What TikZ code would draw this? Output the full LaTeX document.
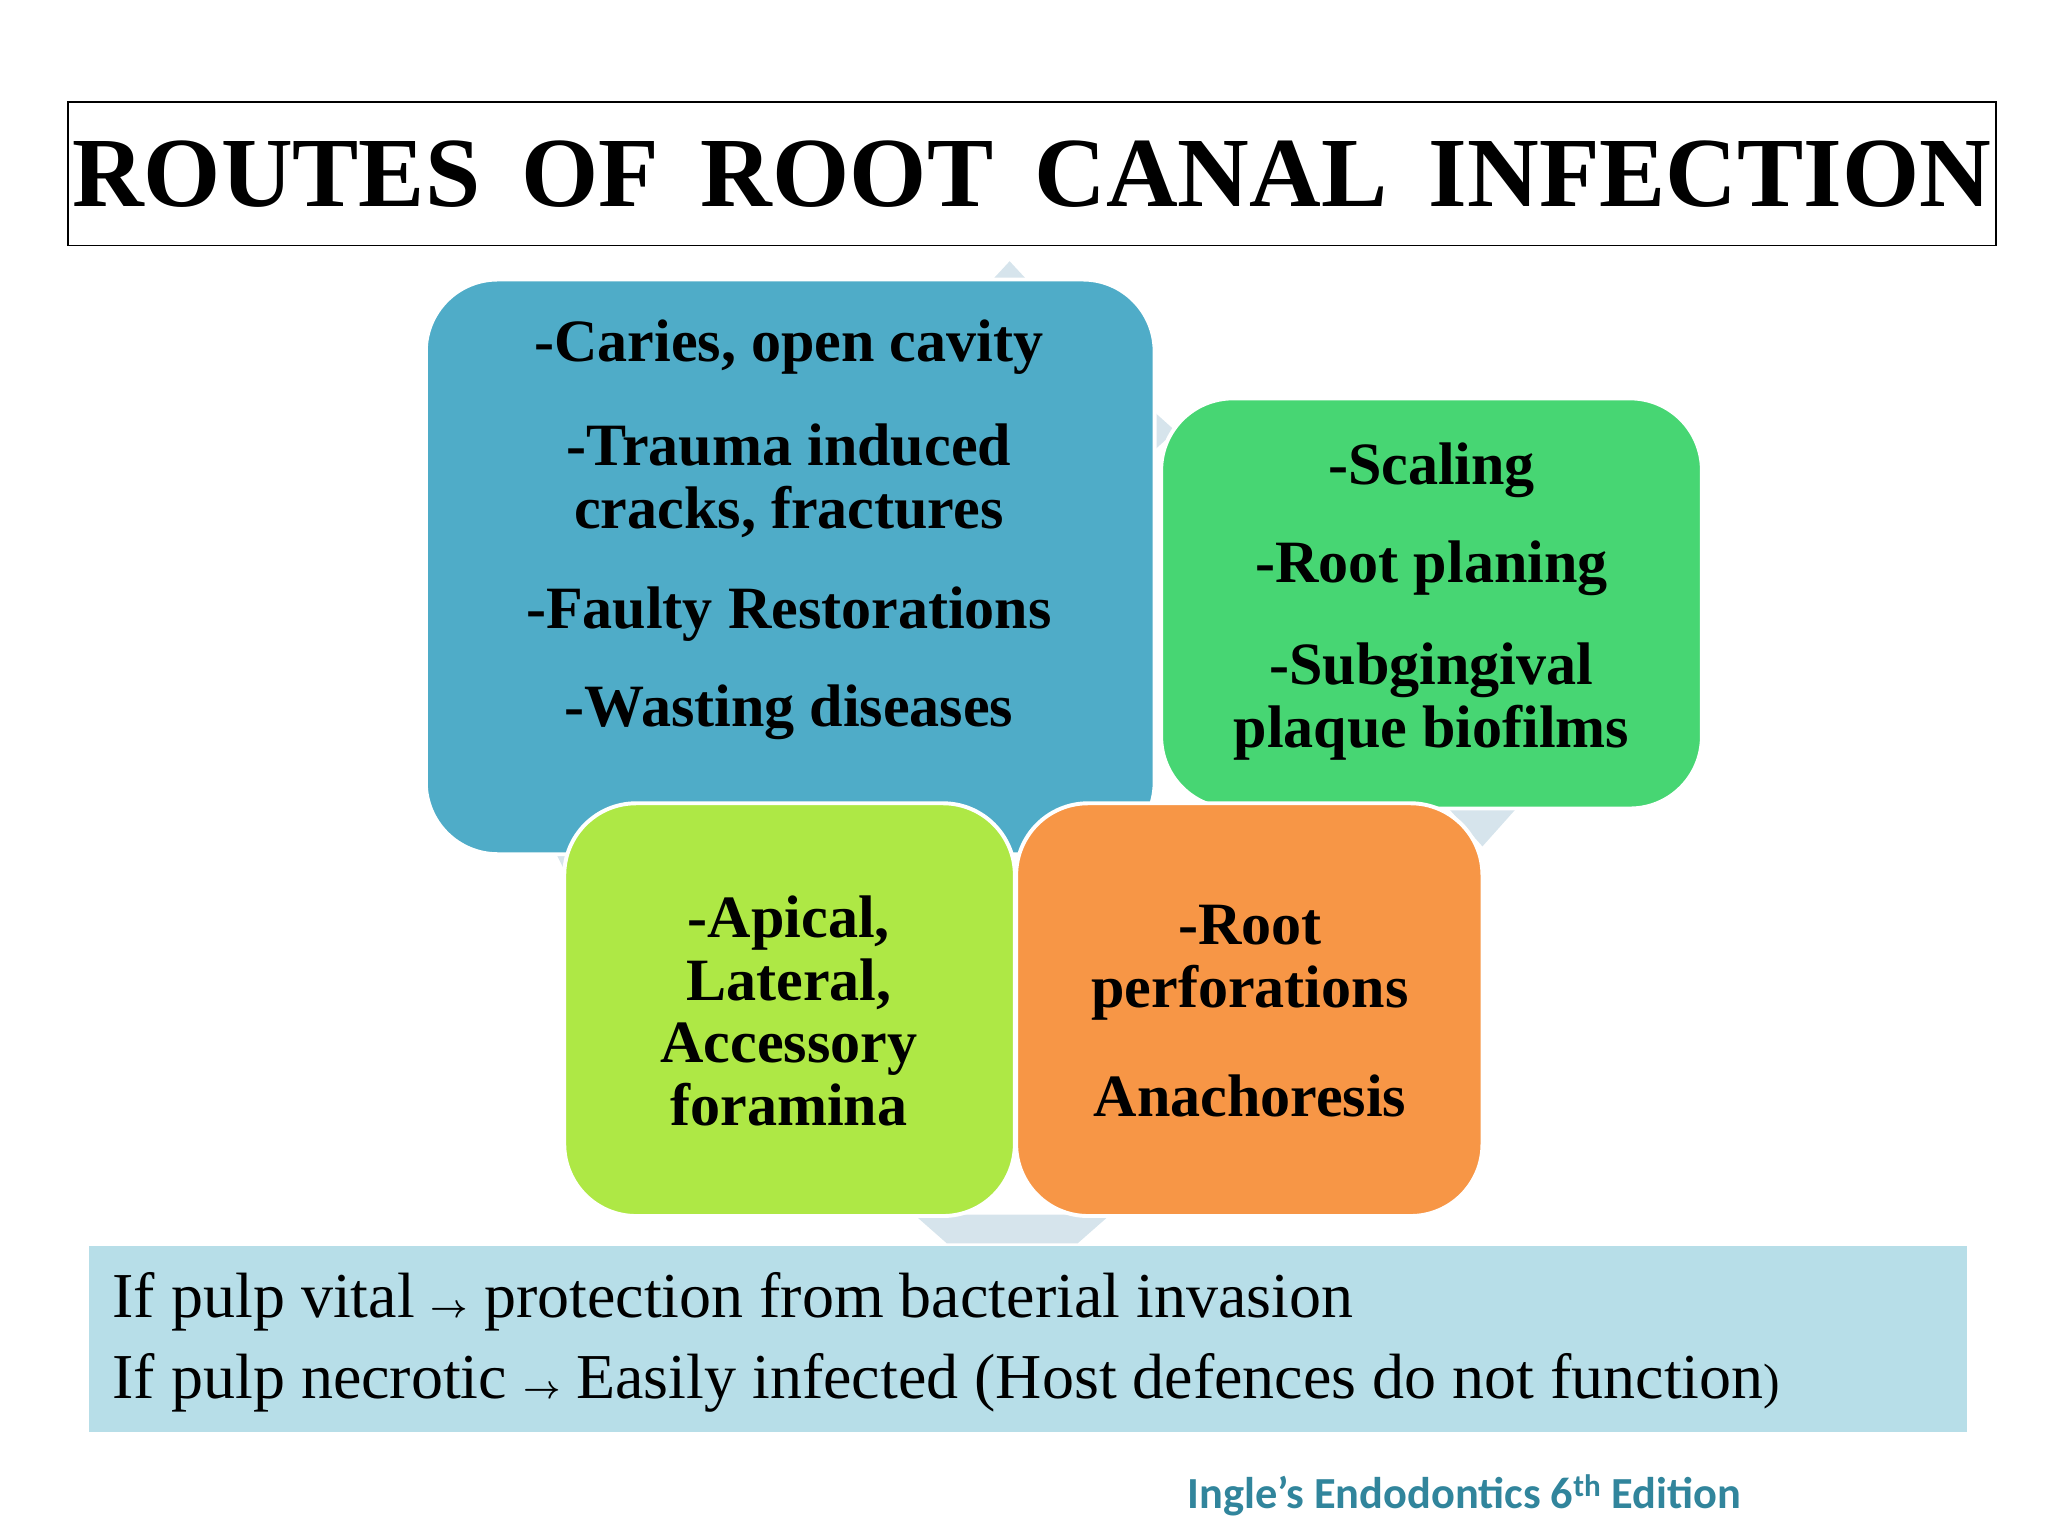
\documentclass[tikz,border=0pt]{standalone}
\usepackage{amsmath,amssymb}
\usepackage{fontspec}
\setmainfont{Liberation Serif}
\newfontfamily\footfont{Carlito}
\usetikzlibrary{positioning}
\definecolor{boxblue}{HTML}{4FACC8}
\definecolor{boxgreen}{HTML}{47D673}
\definecolor{boxlime}{HTML}{AEE845}
\definecolor{boxorange}{HTML}{F79646}
\definecolor{notebg}{HTML}{B7DEE8}
\definecolor{chev}{HTML}{D6E4EC}
\definecolor{foot}{HTML}{31859C}
\newcommand{\bigtxt}{\fontsize{46}{56}\selectfont\bfseries}
\newcommand{\thickarr}{$\boldsymbol{\rightarrow}$}
\begin{document}
\begin{tikzpicture}[x=1pt,y=1pt,yscale=-1,
  route/.style={draw=white,line width=3pt,rounded corners=55pt},
  rtext/.style={align=center,inner sep=0pt,font=\bigtxt}]
	\useasboundingbox (0,0) rectangle (1568,1176);
	% faint cycle behind the boxes
	\fill[chev] (760,214) -- (773,200) -- (786,214) -- cycle;
	\fill[chev] (880,312) -- (900,330) -- (880,348) -- cycle;
	\fill[chev] (1110,620) -- (1160,620) -- (1135,648) -- cycle;
	\fill[chev] (700,930) -- (850,930) -- (825,952) -- (725,952) -- cycle;
	\fill[chev] (424,650) -- (440,650) -- (432,666) -- cycle;
	% Title
	\draw[line width=1.2pt] (52,78) rectangle (1528,188);
	\node (title) at (790,133) [font=\fontsize{76}{80}\selectfont\bfseries] {ROUTES\, OF\, ROOT\, CANAL\, INFECTION};
	% Boxes
	\filldraw[route,fill=boxblue] (326,214) rectangle (884,654);
	\filldraw[route,fill=boxgreen] (889,305) rectangle (1303,619);
	\filldraw[route,fill=boxlime] (432,615) rectangle (777,931);
	\filldraw[route,fill=boxorange] (778,615) rectangle (1135,931);
	% Box texts
	\node (caries) at (604,266) [rtext] {-Caries, open cavity};
	\node (trauma) at (604,368) [rtext] {-Trauma induced\\[-8pt]cracks, fractures};
	\node (faulty) at (604,470) [rtext] {-Faulty Restorations};
	\node (waste) at (604,545) [rtext] {-Wasting diseases};
	\node (scal) at (1096,360) [rtext] {-Scaling};
	\node (plan) at (1096,435) [rtext] {-Root planing};
	\node (sub) at (1096,537) [rtext] {-Subgingival\\[-8pt]plaque biofilms};
	\node (apic) at (604,774) [rtext] {-Apical,\\[-8pt]Lateral,\\[-8pt]Accessory\\[-8pt]foramina};
	\node (perf) at (957,737) [rtext] {-Root\\[-8pt]perforations};
	\node (anach) at (957,839) [rtext] {Anachoresis};
	% Note
	\fill[notebg] (68,954) rectangle (1506,1096);
	\node (vital) at (86,997) [anchor=west,inner sep=0pt,font=\fontsize{49}{58}\selectfont] {If pulp vital \thickarr{} protection from bacterial invasion};
	\node (necro) at (86,1059) [anchor=west,inner sep=0pt,font=\fontsize{49}{58}\selectfont] {If pulp necrotic \thickarr{} Easily infected (Host defences do not function{\fontsize{38}{40}\selectfont)}};
	% Source
	\node (src) at (1121,1145) [text=foot,font=\fontsize{34}{40}\footfont\bfseries] {Ingle’s Endodontics 6\textsuperscript{th} Edition};
\end{tikzpicture}
\end{document}
